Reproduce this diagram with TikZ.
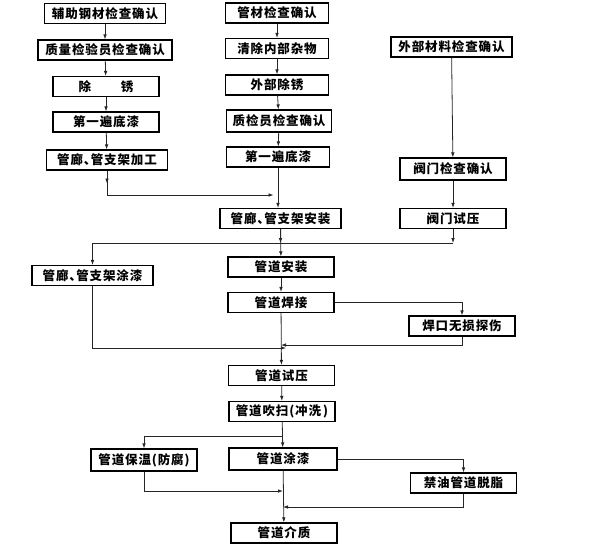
\documentclass[tikz,border=0pt]{standalone}
\usepackage{fontspec}
\setmainfont{Noto Sans CJK SC}[LetterSpace=7]
\usepackage{tikz}
\usetikzlibrary{arrows.meta,calc}
\newcommand{\dun}{、\kern-0.45em}
\tikzset{
  >={Latex[length=5pt,width=3.6pt]},
  % rutor
  bx/.style={draw=black,fill=white,line width=1.1pt,inner sep=0pt,
             minimum height=20pt,font=\bfseries\fontsize{12.5}{13}\selectfont},
  w106/.style={bx,minimum width=106pt},
  w120/.style={bx,minimum width=121pt},
  % flöden
  fl/.style={->,draw=black!85,line width=0.8pt},
  ln/.style={draw=black!85,line width=0.8pt},
}
\begin{document}
\begin{tikzpicture}[x=1pt,y=-1pt]
  \useasboundingbox (0,0) rectangle (593,550);
  % vänster kolumn
  \node[w120] (n1) at (105,13.5) {辅助钢材检查确认};
  \node[bx,minimum width=134pt] (n2) at (105,50) {质量检验员检查确认};
  \node[w106] (n3) at (106,86.5) {除\hspace{2.4em}锈};
  \node[w106] (n4) at (106,122) {第一遍底漆};
  \node[w120] (n5) at (107,160) {管廊\dun 管支架加工};
  % mittkolumn
  \node[bx,minimum width=103pt] (m1) at (277,13) {管材检查确认};
  \node[bx,minimum width=103pt] (m2) at (277,48.5) {清除内部杂物};
  \node[bx,minimum width=103pt] (m3) at (277,85) {外部除锈};
  \node[bx,minimum width=105pt,minimum height=22pt] (m4) at (279,121) {质检员检查确认};
  \node[bx,minimum width=103pt] (m5) at (278,157) {第一遍底漆};
  \node[w120] (m6) at (280.5,218.5) {管廊\dun 管支架安装};
  \node[w106] (m7) at (281,267) {管道安装};
  \node[w106] (m8) at (281,302.5) {管道焊接};
  \node[w106] (m9) at (281.5,375.5) {管道试压};
  \node[w106] (m10) at (282,411.5) {管道吹扫(冲洗\,)};
  \node[bx,minimum width=108pt,minimum height=22pt] (m11) at (283,459) {管道涂漆};
  \node[w106] (m12) at (284,533) {管道介质};
  % höger kolumn
  \node[w120] (r1) at (451.5,47) {外部材料检查确认};
  \node[w106,minimum height=22pt] (r2) at (453,169) {阀门检查确认};
  \node[w106] (r3) at (453,218.5) {阀门试压};
  \node[w106] (r4) at (462,326) {焊口无损探伤};
  \node[w106] (r5) at (463.5,483) {禁油管道脱脂};
  % sidorutor
  \node[w120] (l1) at (92.5,275.5) {管廊\dun 管支架涂漆};
  \node[w106,minimum height=22pt] (l2) at (144,460) {管道保温(防腐)};
  % hjälppunkter
  \coordinate (j1) at (107,195);
  \coordinate (j2) at (453,243);
  \coordinate (j3) at (281,348);
  \coordinate (j4) at (282,436);
  \coordinate (j5) at (283,491);
  \coordinate (j6) at (283,507);
  % vänster kedja
  \draw[fl] (n1) -- (n2);
  \draw[fl] (n2) -- (n3);
  \draw[fl] (n3) -- (n4);
  \draw[fl] (n4) -- (n5);
  \draw[fl] (n5.south) -- ++(0,13);
  \draw[ln] (n5.south) -- (j1);
  \draw[fl] (j1) -- ([xshift=-7pt]j1 -| m6);
  % mittkedja
  \draw[fl] (m1) -- (m2);
  \draw[fl] (m2) -- (m3);
  \draw[fl] (m3) -- (m4);
  \draw[fl] (m4) -- (m5);
  \draw[fl] (m5.south) -- (m5.south |- m6.north);
  \draw[fl] (m6.south) -- ++(0,14);
  \draw[fl] (m6) -- (m7);
  \draw[fl] (m7) -- (m8);
  \draw[fl] (m8) -- (m9);
  \draw[fl] (m9) -- (m10);
  \draw[fl] (m10) -- (m11);
  \draw[fl] (m11) -- (m12);
  % höger kedja
  \draw[fl] (r1) -- (r2);
  \draw[fl] (r2) -- (r3);
  \draw[fl] (r3) -- (j2);
  \draw[fl] (j2) -| (l1);
  % grenar
  \draw[fl] (m8) -| (r4);
  \draw[fl] (r4.south) |- ([yshift=3pt]j3);
  \draw[fl] (l1.south) |- ([xshift=5pt]j3);
  \draw[fl] (j4) -| (l2);
  \draw[fl] (m11) -| (r5);
  \draw[fl] (r5.south) |- (j6);
  \draw[fl] (l2.south) |- (j5);
\end{tikzpicture}
\end{document}
